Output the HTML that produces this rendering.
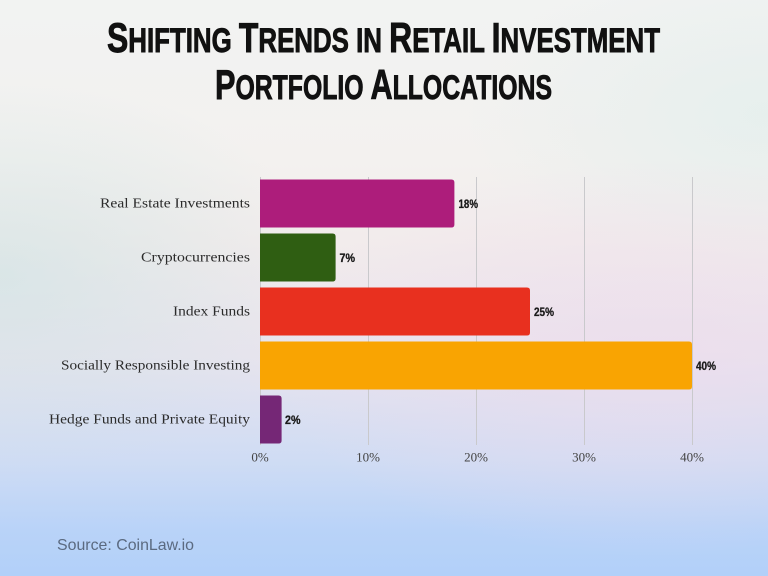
<!DOCTYPE html>
<html>
<head>
<meta charset="utf-8">
<style>
  html,body{margin:0;padding:0;}
  body{
    width:768px;height:576px;overflow:hidden;position:relative;
    background:
      radial-gradient(ellipse 320px 200px at 0% 48%, rgba(200,226,226,0.55), rgba(200,226,226,0) 100%),
      radial-gradient(ellipse 380px 200px at 85% 62%, rgba(238,218,236,0.6), rgba(238,218,236,0) 100%),
      radial-gradient(ellipse 300px 160px at 100% 20%, rgba(225,238,236,0.7), rgba(225,238,236,0) 100%),
      linear-gradient(180deg, #f2f3f2 0%, #f3f1ef 28%, #f2ecec 42%, #e8e4ee 62%, #cfdcf4 80%, #b9d3f8 92%, #b2d0f9 100%);
  }
  svg{position:absolute;left:0;top:0;}
</style>
</head>
<body>
<svg width="768" height="576" viewBox="0 0 768 576" xmlns="http://www.w3.org/2000/svg">
  <!-- Title -->
  <g font-family="'Liberation Sans Narrow','Liberation Sans',sans-serif" font-weight="bold" fill="#111" stroke="#111" stroke-width="0.9" style="text-transform:uppercase">
    <text x="107" y="52" textLength="553" lengthAdjust="spacingAndGlyphs"><tspan font-size="42">S</tspan><tspan font-size="34">hifting </tspan><tspan font-size="42">T</tspan><tspan font-size="34">rends in </tspan><tspan font-size="42">R</tspan><tspan font-size="34">etail </tspan><tspan font-size="42">I</tspan><tspan font-size="34">nvestment</tspan></text>
    <text x="215" y="99" textLength="337" lengthAdjust="spacingAndGlyphs"><tspan font-size="42">P</tspan><tspan font-size="34">ortfolio </tspan><tspan font-size="42">A</tspan><tspan font-size="34">llocations</tspan></text>
  </g>

  <!-- Grid lines -->
  <g stroke="#c9c9cc" stroke-width="1">
    <line x1="260.5" y1="177" x2="260.5" y2="445"/>
    <line x1="368.5" y1="177" x2="368.5" y2="445"/>
    <line x1="476.5" y1="177" x2="476.5" y2="445"/>
    <line x1="584.5" y1="177" x2="584.5" y2="445"/>
    <line x1="692.5" y1="177" x2="692.5" y2="445"/>
  </g>

  <!-- Bars -->
  <path d="M260,179.5 H451.4 Q454.4,179.5 454.4,182.5 V224.5 Q454.4,227.5 451.4,227.5 H260 Z" fill="#ad1d7b"/>
  <path d="M260,233.5 H332.6 Q335.6,233.5 335.6,236.5 V278.5 Q335.6,281.5 332.6,281.5 H260 Z" fill="#2f5e12"/>
  <path d="M260,287.5 H527 Q530,287.5 530,290.5 V332.5 Q530,335.5 527,335.5 H260 Z" fill="#e8301f"/>
  <path d="M260,341.5 H689 Q692,341.5 692,344.5 V386.5 Q692,389.5 689,389.5 H260 Z" fill="#f9a402"/>
  <path d="M260,395.5 H278.6 Q281.6,395.5 281.6,398.5 V440.5 Q281.6,443.5 278.6,443.5 H260 Z" fill="#752776"/>

  <!-- Category labels -->
  <g font-family="'Liberation Serif',serif" font-size="14" fill="#2b2b2b" text-anchor="end">
    <text x="250" y="207.5" textLength="150" lengthAdjust="spacingAndGlyphs">Real Estate Investments</text>
    <text x="250" y="261.5" textLength="109" lengthAdjust="spacingAndGlyphs">Cryptocurrencies</text>
    <text x="250" y="315.5" textLength="77" lengthAdjust="spacingAndGlyphs">Index Funds</text>
    <text x="250" y="369.5" textLength="189" lengthAdjust="spacingAndGlyphs">Socially Responsible Investing</text>
    <text x="250" y="423.5" textLength="201" lengthAdjust="spacingAndGlyphs">Hedge Funds and Private Equity</text>
  </g>

  <!-- Value labels -->
  <g font-family="'Liberation Sans Narrow','Liberation Sans',sans-serif" font-weight="bold" font-size="12" fill="#1a1a1a" stroke="#1a1a1a" stroke-width="0.3">
    <text x="458.5" y="208" textLength="19.5" lengthAdjust="spacingAndGlyphs">18%</text>
    <text x="339.5" y="262" textLength="15.5" lengthAdjust="spacingAndGlyphs">7%</text>
    <text x="534" y="316" textLength="20" lengthAdjust="spacingAndGlyphs">25%</text>
    <text x="696" y="370" textLength="20" lengthAdjust="spacingAndGlyphs">40%</text>
    <text x="285" y="424" textLength="15.5" lengthAdjust="spacingAndGlyphs">2%</text>
  </g>

  <!-- Tick labels -->
  <g font-family="'Liberation Serif',serif" font-size="13" fill="#444" text-anchor="middle">
    <text x="260" y="461.5">0%</text>
    <text x="368" y="461.5">10%</text>
    <text x="476" y="461.5">20%</text>
    <text x="584" y="461.5">30%</text>
    <text x="692" y="461.5">40%</text>
  </g>

  <!-- Source -->
  <text x="57" y="550" font-family="'Liberation Sans',sans-serif" font-size="16" fill="#5b6a80" textLength="137" lengthAdjust="spacingAndGlyphs">Source: CoinLaw.io</text>
</svg>
</body>
</html>
